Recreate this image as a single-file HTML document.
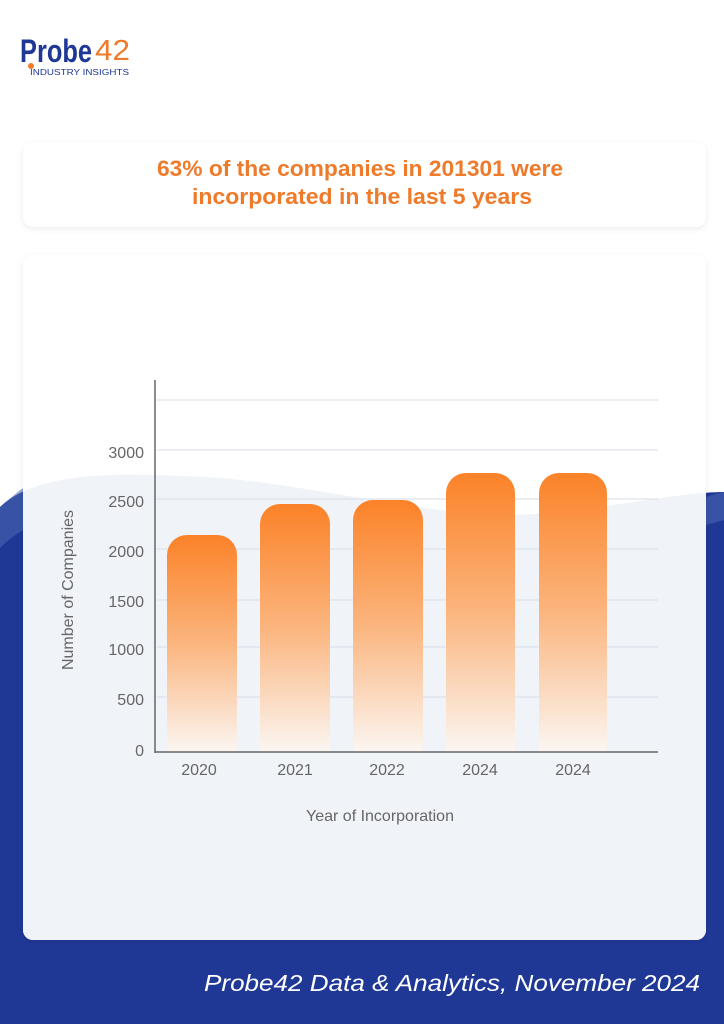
<!DOCTYPE html>
<html><head><meta charset="utf-8"><style>
html,body{margin:0;padding:0;background:#fff}
svg{display:block}
text{font-family:"Liberation Sans",sans-serif}
</style></head><body>
<svg width="724" height="1024" viewBox="0 0 724 1024" xmlns="http://www.w3.org/2000/svg">
<defs>
<linearGradient id="bar" x1="0" y1="0" x2="0" y2="1">
<stop offset="0" stop-color="#fb8228"/>
<stop offset="0.5" stop-color="#fbb57e"/>
<stop offset="1" stop-color="#fbf6f2"/>
</linearGradient>
<filter id="sh" x="-5%" y="-10%" width="110%" height="130%"><feDropShadow dx="0" dy="2" stdDeviation="3" flood-color="#000" flood-opacity="0.08"/></filter>
<clipPath id="card"><rect x="23" y="255" width="683" height="685" rx="10"/></clipPath>
</defs>
<rect width="724" height="1024" fill="#fff"/>
<path d="M0 507 C 40 470, 120 472, 220 478 C 340 488, 450 525, 560 512 C 640 502, 690 492, 724 492 L724 1024 L0 1024 Z" fill="#1f3896"/>
<path d="M0 507 C 10 498, 18 492, 23 488 L23 530 C 15 535, 8 540, 0 548 Z" fill="#4a64b0" opacity="0.6"/>
<path d="M706 497 C 712 495, 718 493, 724 492 L724 520 L706 525 Z" fill="#4a64b0" opacity="0.6"/>
<text x="20" y="62" font-size="32" font-weight="bold" fill="#1f3896" textLength="72" lengthAdjust="spacingAndGlyphs">Probe</text>
<text x="95" y="60" font-size="29" fill="#ee7a2a" textLength="35" lengthAdjust="spacingAndGlyphs">42</text>
<circle cx="31" cy="66" r="3" fill="#ee7a2a"/>
<text x="30" y="75" font-size="8" fill="#1f3896" textLength="99" lengthAdjust="spacingAndGlyphs">INDUSTRY INSIGHTS</text>
<rect x="23" y="142" width="683" height="85" rx="10" fill="#fff" filter="url(#sh)"/>
<text x="360" y="176" font-size="22" font-weight="bold" fill="#ee7a2a" text-anchor="middle" textLength="406" lengthAdjust="spacingAndGlyphs">63% of the companies in 201301 were</text>
<text x="362" y="204" font-size="22" font-weight="bold" fill="#ee7a2a" text-anchor="middle" textLength="340" lengthAdjust="spacingAndGlyphs">incorporated in the last 5 years</text>
<rect x="23" y="255" width="683" height="685" rx="10" fill="#fff" filter="url(#sh)"/>
<g clip-path="url(#card)">
<path d="M0 507 C 40 470, 120 472, 220 478 C 340 488, 450 525, 560 512 C 640 502, 690 492, 724 492 L724 1024 L0 1024 Z" fill="#f0f3f8"/>
</g>
<g stroke="#dde2ea" stroke-width="1.2">
<line x1="157" y1="400" x2="658" y2="400"/>
<line x1="157" y1="450" x2="658" y2="450"/>
<line x1="157" y1="499" x2="658" y2="499"/>
<line x1="157" y1="549" x2="658" y2="549"/>
<line x1="157" y1="600" x2="658" y2="600"/>
<line x1="157" y1="647" x2="658" y2="647"/>
<line x1="157" y1="697" x2="658" y2="697"/>
</g>
<path d="M167 752 V555 a20 20 0 0 1 20 -20 H217 a20 20 0 0 1 20 20 V752 Z" fill="url(#bar)"/>
<path d="M260 752 V524 a20 20 0 0 1 20 -20 H310 a20 20 0 0 1 20 20 V752 Z" fill="url(#bar)"/>
<path d="M353 752 V520 a20 20 0 0 1 20 -20 H403 a20 20 0 0 1 20 20 V752 Z" fill="url(#bar)"/>
<path d="M446 752 V493 a20 20 0 0 1 20 -20 H495 a20 20 0 0 1 20 20 V752 Z" fill="url(#bar)"/>
<path d="M539 752 V493 a20 20 0 0 1 20 -20 H587 a20 20 0 0 1 20 20 V752 Z" fill="url(#bar)"/>
<line x1="155" y1="380" x2="155" y2="753" stroke="#666" stroke-width="1.5"/>
<line x1="155" y1="752" x2="658" y2="752" stroke="#666" stroke-width="1.5"/>
<g font-size="16" fill="#666" text-anchor="end">
<text x="144" y="458">3000</text>
<text x="144" y="507">2500</text>
<text x="144" y="557">2000</text>
<text x="144" y="607">1500</text>
<text x="144" y="655">1000</text>
<text x="144" y="705">500</text>
<text x="144" y="756">0</text>
</g>
<g font-size="16" fill="#666" text-anchor="middle">
<text x="199" y="775">2020</text>
<text x="295" y="775">2021</text>
<text x="387" y="775">2022</text>
<text x="480" y="775">2024</text>
<text x="573" y="775">2024</text>
</g>
<text x="380" y="821" font-size="16" fill="#666" text-anchor="middle">Year of Incorporation</text>
<text transform="translate(73 590) rotate(-90)" font-size="16" fill="#666" text-anchor="middle">Number of Companies</text>
<text x="204" y="991" font-size="23" font-style="italic" fill="#fff" textLength="496" lengthAdjust="spacingAndGlyphs">Probe42 Data &amp; Analytics, November 2024</text>
</svg>
</body></html>
